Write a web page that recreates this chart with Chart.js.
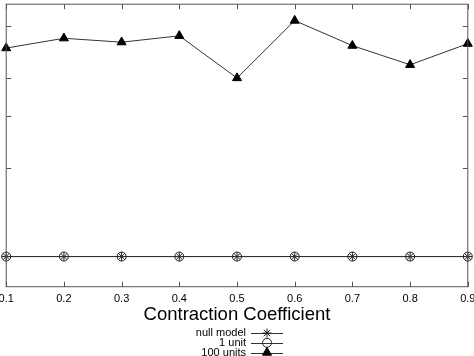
<!DOCTYPE html>
<html>
<head>
<meta charset="utf-8">
<script src="https://cdn.jsdelivr.net/npm/chart.js@4/dist/chart.umd.min.js"></script>
<style>
  html, body { margin: 0; padding: 0; background: #fff; overflow: hidden; }
  #wrap { position: absolute; left: 0; top: -2px; width: 474px; height: 358px; }
</style>
</head>
<body>
<div id="wrap"><canvas id="c" width="474" height="358"></canvas></div>
<script>
// ---- data (y in arbitrary units, labels cropped in source) ----
const categories = ['0.1', '0.2', '0.3', '0.4', '0.5', '0.6', '0.7', '0.8', '0.9'];
const nullModel = [0.307, 0.307, 0.307, 0.307, 0.307, 0.307, 0.307, 0.307, 0.307];
const oneUnit = [0.307, 0.307, 0.307, 0.307, 0.307, 0.307, 0.307, 0.307, 0.307];
const hundredUnits = [2.43, 2.53, 2.49, 2.555, 2.125, 2.71, 2.455, 2.26, 2.475];
const yTicks = [1.21, 1.74, 2.127, 2.66];
const seriesNames = ['null model', '1 unit', '100 units'];
const xTitle = 'Contraction Coefficient';
const yMin = 0, yMax = 2.877;

const FONT = '"Liberation Sans", Arial, Helvetica, sans-serif';
const AXIS = '#555';
const LINE = '#333';

const frame = {
  id: 'frame',
  afterDatasetsDraw(chart) {
    const {ctx, chartArea: a, scales: {x, y}} = chart;
    ctx.save();
    ctx.strokeStyle = AXIS;
    ctx.lineWidth = 1;
    ctx.strokeRect(a.left, a.top, a.right - a.left, a.bottom - a.top);
    const tl = 5;
    ctx.beginPath();
    x.ticks.forEach((t, i) => {
      const px = Math.round(x.getPixelForTick(i)) + 0.5;
      ctx.moveTo(px, a.bottom); ctx.lineTo(px, a.bottom - tl);
      ctx.moveTo(px, a.top); ctx.lineTo(px, a.top + tl);
    });
    yTicks.forEach(v => {
      const py = Math.round(y.getPixelForValue(v)) + 0.5;
      ctx.moveTo(a.left, py); ctx.lineTo(a.left + tl, py);
      ctx.moveTo(a.right, py); ctx.lineTo(a.right - tl, py);
    });
    ctx.stroke();
    ctx.restore();
  }
};

const keyBox = {
  id: 'keyBox',
  afterDraw(chart) {
    const {ctx} = chart;
    const textRight = 246, lineL = 251, lineR = 283, mark = 267;
    const rows = [335, 344.8, 354.6];
    ctx.save();
    chart.data.datasets.forEach((ds, i) => {
      const yy = rows[i];
      ctx.font = '11px ' + FONT;
      ctx.fillStyle = '#000';
      ctx.textAlign = 'right';
      ctx.textBaseline = 'middle';
      ctx.fillText(ds.label, textRight, yy);
      ctx.strokeStyle = ds.borderColor;
      ctx.lineWidth = 1;
      ctx.beginPath();
      ctx.moveTo(lineL, Math.round(yy) + 0.5);
      ctx.lineTo(lineR, Math.round(yy) + 0.5);
      ctx.stroke();
      ctx.fillStyle = ds.pointBackgroundColor;
      ctx.strokeStyle = ds.pointBorderColor;
      ctx.lineWidth = ds.pointBorderWidth;
      Chart.helpers.drawPoint(ctx, {pointStyle: ds.pointStyle, radius: ds.pointRadius, borderWidth: ds.pointBorderWidth, rotation: 0}, mark, yy);
    });
    ctx.restore();
  }
};

new Chart(document.getElementById('c'), {
  type: 'line',
  data: {
    labels: categories,
    datasets: [
      { label: seriesNames[0], data: nullModel, borderColor: LINE, borderWidth: 1,
        pointStyle: 'star', pointRadius: 4.5, pointBorderWidth: 1,
        pointBorderColor: '#222', pointBackgroundColor: 'rgba(0,0,0,0)', clip: false, order: 3 },
      { label: seriesNames[1], data: oneUnit, borderColor: LINE, borderWidth: 1,
        pointStyle: 'circle', pointRadius: 4.5, pointBorderWidth: 1,
        pointBorderColor: '#222', pointBackgroundColor: 'rgba(0,0,0,0)', clip: false, order: 2 },
      { label: seriesNames[2], data: hundredUnits, borderColor: LINE, borderWidth: 1,
        pointStyle: 'triangle', pointRadius: 5.2, pointBorderWidth: 1,
        pointBorderColor: '#000', pointBackgroundColor: '#000', clip: false, order: 1 }
    ]
  },
  options: {
    responsive: false,
    animation: false,
    devicePixelRatio: 1,
    layout: { padding: { left: 4.5, right: 5.3, top: 1, bottom: 30 } },
    plugins: { legend: { display: false }, tooltip: { enabled: false } },
    elements: { line: { tension: 0 } },
    scales: {
      x: {
        type: 'category',
        offset: false,
        grid: { display: false, drawTicks: false },
        border: { display: false },
        ticks: { color: '#000', font: { family: FONT, size: 11 }, padding: 6,
                 maxRotation: 0, minRotation: 0, autoSkip: false },
        title: { display: true, text: xTitle, color: '#000',
                 font: { family: FONT, size: 18.5 }, padding: 0 },
        afterFit(s) { s.height = 39.3; s.paddingLeft = 0; s.paddingRight = 0; }
      },
      y: { display: false, min: yMin, max: yMax }
    }
  },
  plugins: [frame, keyBox]
});
</script>
</body>
</html>
